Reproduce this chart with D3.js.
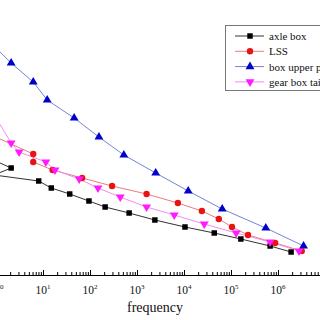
<!DOCTYPE html>
<html>
<head>
<meta charset="utf-8">
<script src="https://cdn.jsdelivr.net/npm/d3@7"></script>
<style>
  body { margin: 0; background: #fff; }
  text { font-family: "Liberation Serif", "DejaVu Serif", serif; }
</style>
</head>
<body>
<div id="chart"></div>
<script>
// svg size
var svgWidth = 320;
var svgHeight = 320;

// series names shown in the legend
var seriesNames = ["axle box", "LSS", "box upper part", "gear box tail"];

// frequency (x) and value (y) of every point
var axleFreq = [0.46, 2.1, 0.91, 8.1, 15, 37, 95, 210, 680, 2400, 10500, 44000, 162000, 680000, 1900000];
var axleVal  = [4.84, 4.28, 4.00, 3.76, 3.48, 3.24, 2.96, 2.72, 2.48, 2.20, 1.92, 1.68, 1.44, 1.16, 0.92];

var lssFreq = [0.46, 6.2, 6.2, 16, 68, 295, 1600, 7400, 24000, 55000, 105000, 230000, 870000, 3200000];
var lssVal  = [5.80, 4.84, 4.52, 4.20, 3.88, 3.56, 3.24, 2.88, 2.56, 2.24, 1.92, 1.60, 1.28, 0.96];

var upperFreq = [0.46, 2.1, 6.2, 12.3, 46, 155, 525, 2500, 12300, 65000, 550000, 3500000];
var upperVal  = [9.72, 8.48, 7.72, 7.00, 6.28, 5.52, 4.80, 4.08, 3.36, 2.64, 1.88, 1.16];

var tailFreq = [0.59, 2.1, 3.1, 11.5, 18, 59, 148, 440, 1600, 6200, 27000, 129000, 680000, 2800000];
var tailVal  = [7.00, 5.28, 4.92, 4.52, 4.20, 3.84, 3.48, 3.12, 2.72, 2.40, 2.04, 1.68, 1.32, 0.96];

// decade exponents for tick labels
var tickExponents = [0, 1, 2, 3, 4, 5, 6];

// styles per series
var lineColors   = ["#333333", "#ee7a7a", "#7384d4", "#f08cf0"];
var markerColors = ["#000000", "#e81414", "#0000cc", "#ff1aff"];
var markerShapes = [d3.symbolSquare, d3.symbolCircle, d3.symbolTriangle, d3.symbolTriangle];
var markerSizes  = [30, 32, 34, 34];

var svg = d3.select("#chart")
  .append("svg")
  .attr("width", svgWidth)
  .attr("height", svgHeight);

// scales (plot is cropped: left axis and top are outside the picture)
var xScale = d3.scaleLog()
  .domain([1, 1e7])
  .range([-4, 325]);

var yScale = d3.scaleLinear()
  .domain([0, 11])
  .range([275, 0]);

var series = [
  { freq: axleFreq, val: axleVal },
  { freq: lssFreq, val: lssVal },
  { freq: upperFreq, val: upperVal },
  { freq: tailFreq, val: tailVal }
];

// x axis, ticks pointing inward
var majorTicks = tickExponents.map(e => Math.pow(10, e));
var minorTicks = [];
for (var e = -1; e < 7; e++) {
  for (var k = 2; k < 10; k++) minorTicks.push(k * Math.pow(10, e));
}
minorTicks = minorTicks.filter(v => v > 1);

var axisG = svg.append("g").attr("transform", "translate(0,275)");
axisG.call(d3.axisBottom(xScale).tickValues(minorTicks).tickSize(-3).tickFormat(""))
  .call(g => g.select(".domain").remove());
axisG.append("g")
  .call(d3.axisBottom(xScale).tickValues(majorTicks).tickSize(-5).tickSizeOuter(0).tickFormat(""))
  .call(g => g.select(".domain").remove());
axisG.selectAll("line").attr("stroke", "#000").attr("stroke-width", 1);
axisG.append("line")
  .attr("x1", 0).attr("x2", svgWidth)
  .attr("y1", 0.5).attr("y2", 0.5)
  .attr("stroke", "#000").attr("stroke-width", 1.2);

// tick labels 10^n
var labels = svg.append("g").selectAll("text")
  .data(tickExponents)
  .enter()
  .append("text")
  .attr("x", d => xScale(Math.pow(10, d)))
  .attr("y", 294)
  .attr("text-anchor", "middle")
  .attr("font-size", 11.5)
  .attr("fill", "#111");
labels.append("tspan").text("10");
labels.append("tspan")
  .attr("dy", -5)
  .attr("font-size", 7)
  .text(d => d);

// axis title
svg.append("text")
  .attr("x", 155)
  .attr("y", 312)
  .attr("text-anchor", "middle")
  .attr("font-size", 14)
  .attr("fill", "#111")
  .text("frequency");

// lines and markers
var line = d3.line()
  .x(d => xScale(d[0]))
  .y(d => yScale(d[1]));

series.forEach(function (s, i) {
  var pts = s.freq.map((f, j) => [f, s.val[j]]);
  svg.append("path")
    .datum(pts)
    .attr("d", line)
    .attr("fill", "none")
    .attr("stroke", lineColors[i])
    .attr("stroke-width", 1);
});

series.forEach(function (s, i) {
  var pts = s.freq.map((f, j) => [f, s.val[j]]);
  svg.append("g").selectAll("path")
    .data(pts)
    .enter()
    .append("path")
    .attr("d", d3.symbol().type(markerShapes[i]).size(markerSizes[i]))
    .attr("transform", d => `translate(${xScale(d[0])},${yScale(d[1])})` + (i === 3 ? " rotate(180)" : ""))
    .attr("fill", markerColors[i]);
});

// legend
var legend = svg.append("g");
legend.append("rect")
  .attr("x", 225.5).attr("y", 25.5)
  .attr("width", 110).attr("height", 65)
  .attr("fill", "#fff")
  .attr("stroke", "#777")
  .attr("stroke-width", 1);

var legendRows = legend.selectAll("g.row")
  .data(seriesNames)
  .enter()
  .append("g")
  .attr("class", "row")
  .attr("transform", (d, i) => `translate(0,${36 + i * 15.3})`);

legendRows.append("line")
  .attr("x1", 235).attr("x2", 264)
  .attr("y1", 0).attr("y2", 0)
  .attr("stroke", (d, i) => lineColors[i])
  .attr("stroke-width", 1);

legendRows.append("path")
  .attr("d", (d, i) => d3.symbol().type(markerShapes[i]).size(markerSizes[i])())
  .attr("transform", (d, i) => "translate(250,0)" + (i === 3 ? " rotate(180)" : ""))
  .attr("fill", (d, i) => markerColors[i]);

legendRows.append("text")
  .attr("x", 269)
  .attr("y", 4)
  .attr("font-size", 11)
  .attr("fill", "#111")
  .text(d => d);
</script>
</body>
</html>
